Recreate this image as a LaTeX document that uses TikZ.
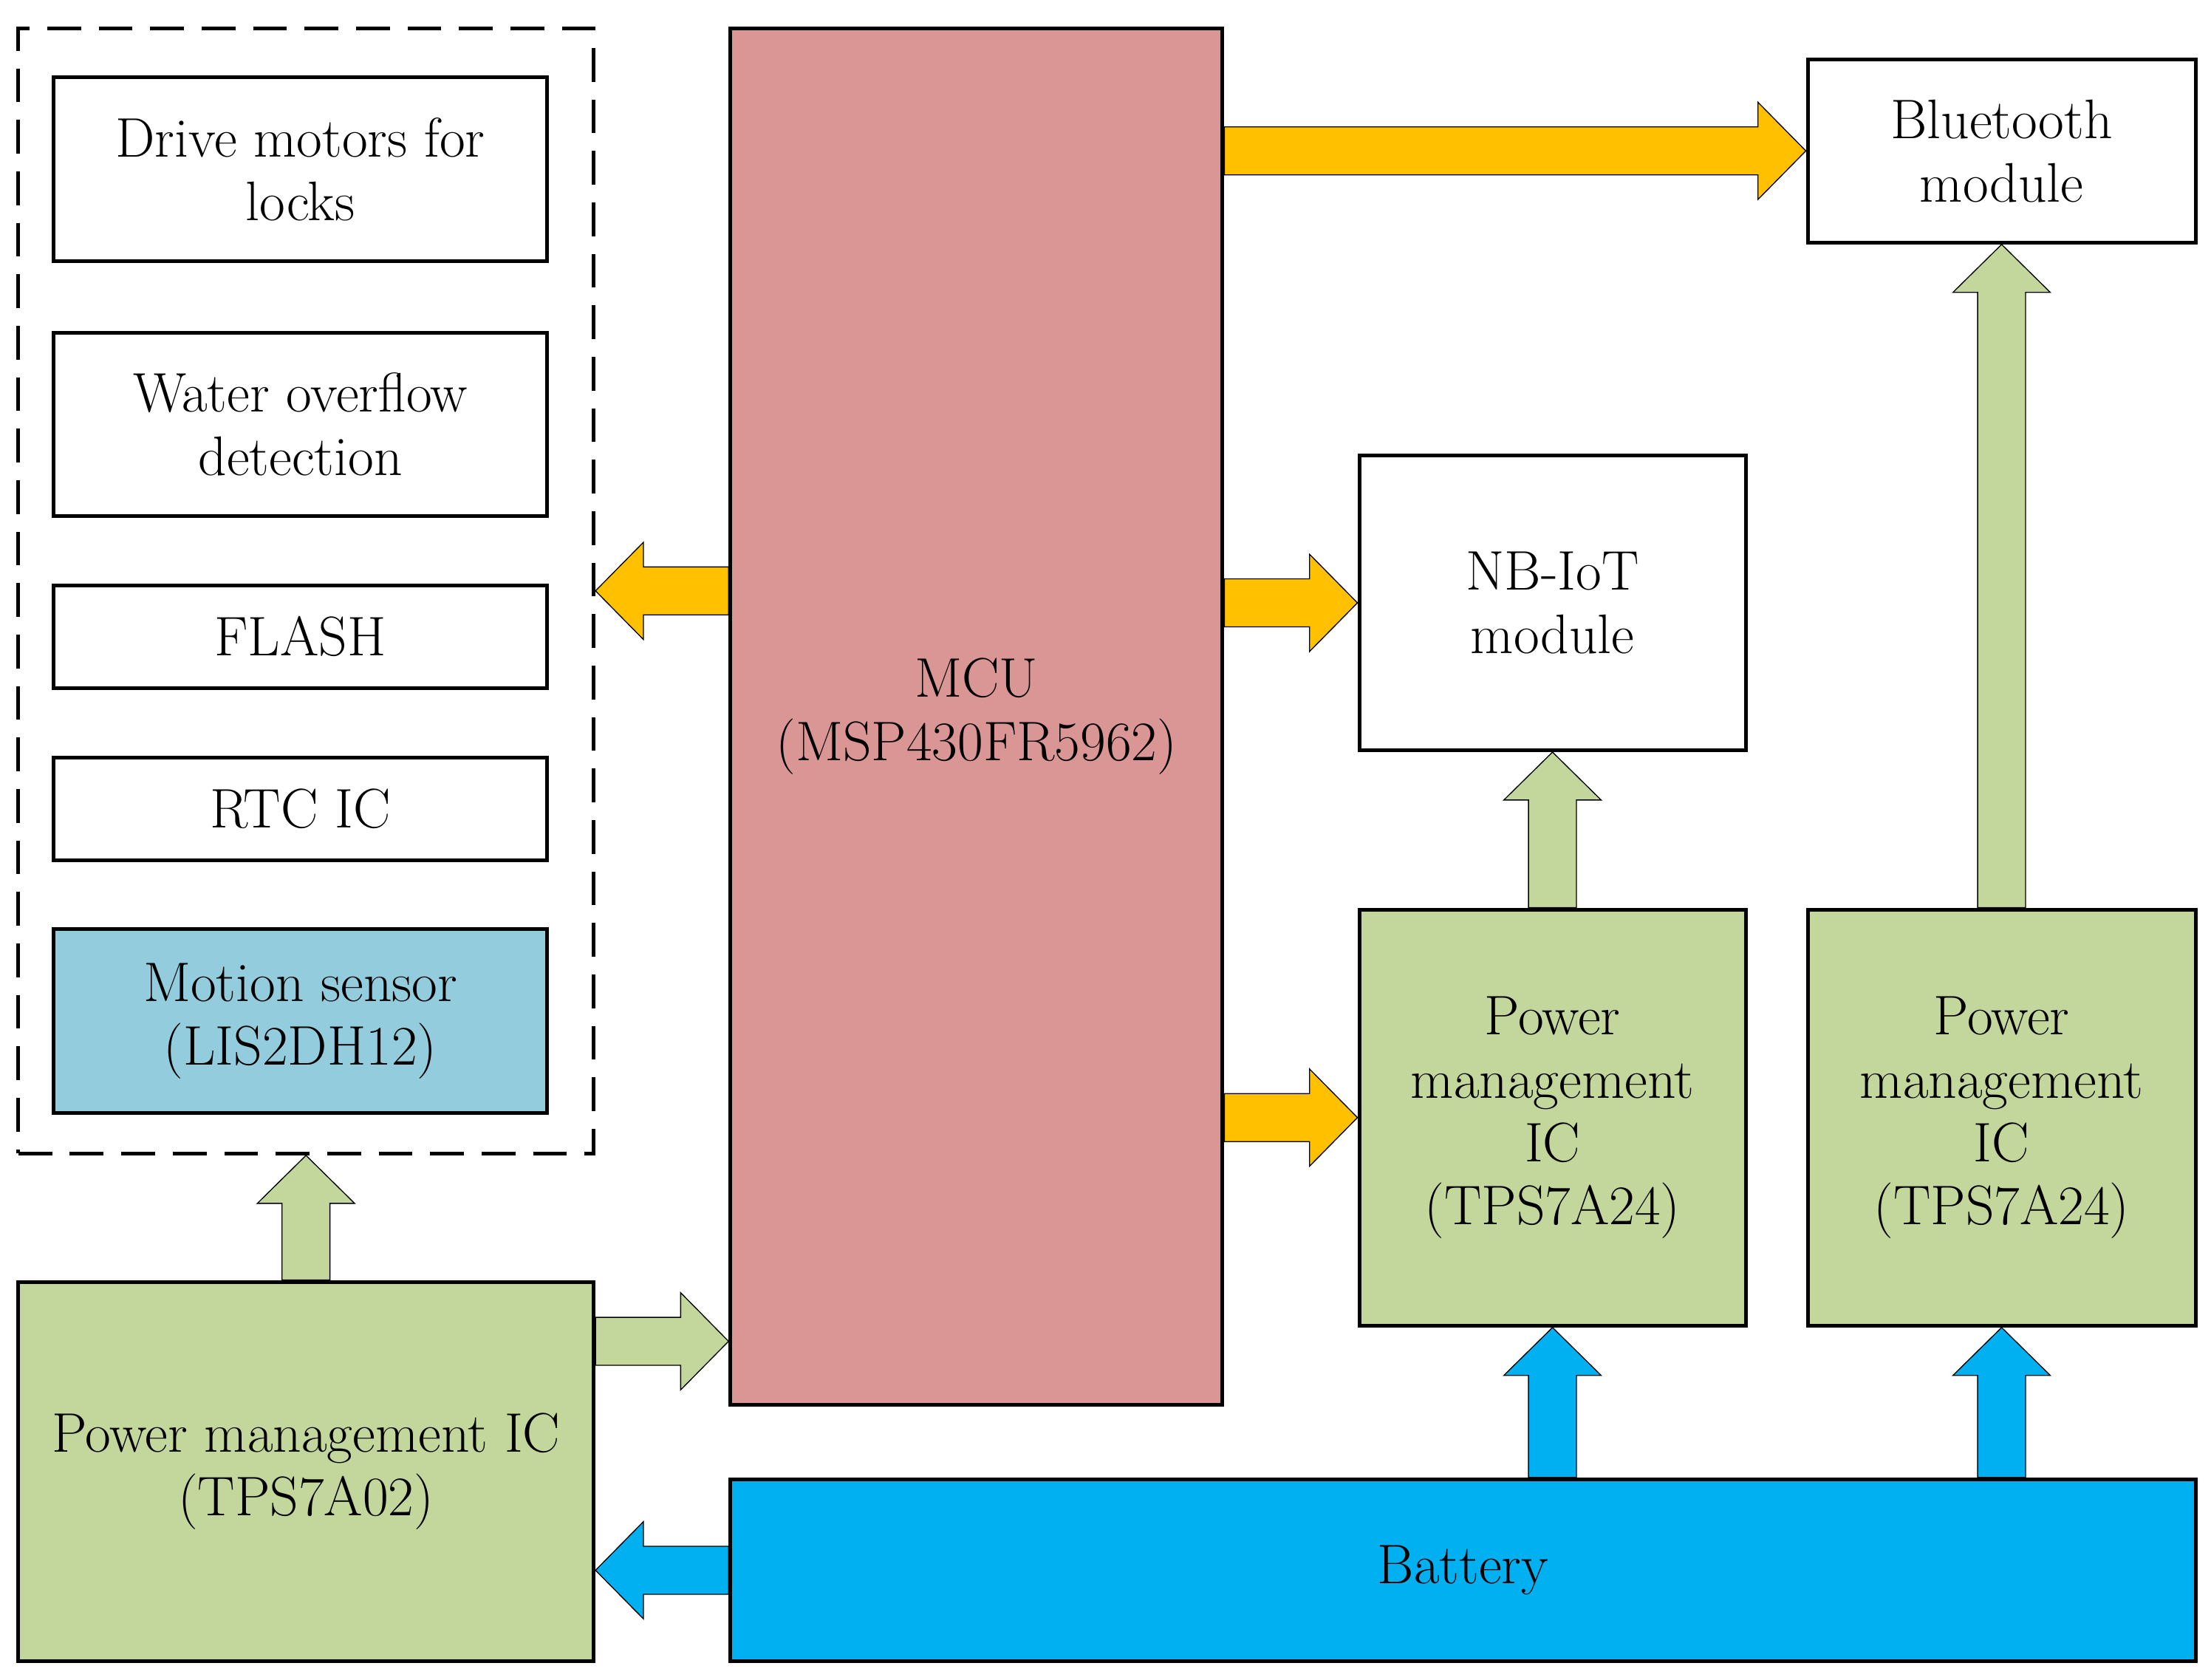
\documentclass[tikz,border=0pt]{standalone}
\usetikzlibrary{positioning,calc}
\definecolor{mcured}{RGB}{217,150,148}
\definecolor{pmgreen}{RGB}{195,214,155}
\definecolor{sensblue}{RGB}{147,205,221}
\definecolor{batblue}{RGB}{0,176,240}
\definecolor{busyellow}{RGB}{255,192,0}

% block arrow between two points
\newcommand{\fatarrow}[3]{%
  \coordinate (fa-s) at (#2);
  \coordinate (fa-e) at (#3);
  \coordinate (fa-h) at ($(fa-e)!6.8mm!(fa-s)$);
  \filldraw[fatline,fill=#1]
    ($(fa-s)!3.4mm!90:(fa-e)$) -- ($(fa-h)!3.4mm!90:(fa-e)$) --
    ($(fa-h)!6.9mm!90:(fa-e)$) -- (fa-e) --
    ($(fa-h)!6.9mm!-90:(fa-e)$) -- ($(fa-h)!3.4mm!-90:(fa-e)$) --
    ($(fa-s)!3.4mm!-90:(fa-e)$) -- cycle;
}

\begin{document}
\begin{tikzpicture}[x=0.2mm,y=-0.2mm,
  box/.style={draw,line width=1.5pt,inner sep=0pt,align=center,
    font=\fontsize{22.5}{25.6}\selectfont},
  pmbox/.style={box,fill=pmgreen},
  group/.style={draw,line width=1.5pt,dash pattern=on 4.8mm off 2.5mm},
  fatline/.style={draw=black,line width=0.4pt}
]
\useasboundingbox (0,0) rectangle (1568,1191);

% Peripherals
\node[group,minimum width=81.6mm,minimum height=159.6mm] (grp) at (217,419) {};
\node[box,minimum width=70mm,minimum height=26mm] (motor) at (213,120) {Drive motors for\\locks};
\node[box,minimum width=70mm,minimum height=26mm] (water) at (213,301) {Water overflow\\detection};
\node[box,minimum width=70mm,minimum height=14.6mm] (flash) at (213,451.5) {FLASH};
\node[box,minimum width=70mm,minimum height=14.6mm] (rtc) at (213,573.5) {RTC IC};
\node[box,fill=sensblue,minimum width=70mm,minimum height=26mm] (sensor) at (213,724) {Motion sensor\\(LIS2DH12)};

% MCU and modules
\node[box,fill=mcured,minimum width=69.8mm,minimum height=195.2mm] (mcu) at (692.5,508) {MCU\\(MSP430FR5962)};
\node[box,minimum width=55mm,minimum height=26mm] (bt) at (1419.5,107) {Bluetooth\\module};
\node[box,minimum width=54.8mm,minimum height=41.8mm] (nb) at (1101,427.5) {NB-IoT\\module};

% Power
\node[pmbox,minimum width=54.8mm,minimum height=59mm] (pmm) at (1101,792.5) {Power\\management\\IC\\(TPS7A24)};
\node[pmbox,minimum width=55mm,minimum height=59mm] (pmr) at (1419.5,792.5) {Power\\management\\IC\\(TPS7A24)};
\node[pmbox,minimum width=81.6mm,minimum height=53.8mm] (pml) at (217,1043.5) {Power management IC\\(TPS7A02)};
\node[box,fill=batblue,minimum width=207.8mm,minimum height=25.8mm] (bat) at (1037.5,1113.5) {Battery};

% Data
\fatarrow{busyellow}{mcu.east |- bt.west}{bt.west}
\fatarrow{busyellow}{mcu.west |- grp.east}{grp.east}
\fatarrow{busyellow}{mcu.east |- nb.west}{nb.west}
\fatarrow{busyellow}{mcu.east |- pmm.west}{pmm.west}

% Supply
\fatarrow{pmgreen}{pmm.north}{nb.south}
\fatarrow{pmgreen}{pmr.north}{bt.south}
\fatarrow{pmgreen}{pml.north}{pml.north |- grp.south}
\coordinate (pml-out) at ($(pml.north east)!0.16!(pml.south east)$);
\fatarrow{pmgreen}{pml-out}{mcu.west |- pml-out}
\fatarrow{batblue}{pmm.south |- bat.north}{pmm.south}
\fatarrow{batblue}{pmr.south |- bat.north}{pmr.south}
\fatarrow{batblue}{bat.west}{pml.east |- bat.west}
\end{tikzpicture}
\end{document}
